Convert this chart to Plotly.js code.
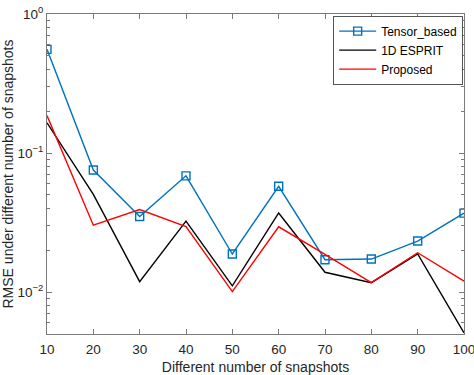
<!DOCTYPE html>
<html>
<head>
<meta charset="utf-8">
<script src="https://cdn.plot.ly/plotly-3.0.1.min.js"></script>
<style>html,body{margin:0;padding:0;background:#fff}#chart{width:474px;height:375px}</style>
</head>
<body>
<div id="chart"></div>
<script>
const snapshots = [10, 20, 30, 40, 50, 60, 70, 80, 90, 100];
const tensorBased = [0.557, 0.0755, 0.035, 0.0686, 0.0188, 0.0577, 0.0171, 0.0173, 0.0233, 0.037];
const esprit1D   = [0.165, 0.0505, 0.0119, 0.0324, 0.0111, 0.0371, 0.0139, 0.0117, 0.0188, 0.0051];
const proposed   = [0.186, 0.0303, 0.0393, 0.0296, 0.0101, 0.0295, 0.0187, 0.0117, 0.0192, 0.012];
const seriesNames = ['Tensor_based', '1D ESPRIT', 'Proposed'];
const yTickVals = [1, 0.1, 0.01];
const yTickText = ['10<sup>0</sup>', '10<sup>\u22121</sup>', '10<sup>\u22122</sup>'];
const yMinorVals = [0.005, 0.006, 0.007, 0.008, 0.009, 0.02, 0.03, 0.04, 0.05, 0.06, 0.07, 0.08, 0.09,
                    0.2, 0.3, 0.4, 0.5, 0.6, 0.7, 0.8, 0.9];
const xTickVals = [10, 20, 30, 40, 50, 60, 70, 80, 90, 100];

const font = 'Liberation Sans, Arial, sans-serif';
const axisColor = '#7a7a7a';

const traces = [
  {x: snapshots, y: tensorBased, name: seriesNames[0], type: 'scatter', mode: 'lines+markers',
   line: {color: '#0072BD', width: 1.4},
   marker: {symbol: 'square-open', size: 8, color: '#0072BD', line: {width: 1.4}}},
  {x: snapshots, y: esprit1D, name: seriesNames[1], type: 'scatter', mode: 'lines',
   line: {color: '#000000', width: 1.4}},
  {x: snapshots, y: proposed, name: seriesNames[2], type: 'scatter', mode: 'lines',
   line: {color: '#FF0000', width: 1.4}}
];

const layout = {
  width: 474, height: 375,
  margin: {l: 47, r: 10, t: 14, b: 41},
  paper_bgcolor: '#fff', plot_bgcolor: '#fff',
  font: {family: font, color: '#262626', size: 13},
  showlegend: true,
  legend: {x: 0.998, xanchor: 'right', y: 0.995, yanchor: 'top',
           bgcolor: '#fff', bordercolor: '#555', borderwidth: 1,
           font: {family: font, size: 12, color: '#000'},
           itemwidth: 37, tracegroupgap: 0},
  xaxis: {
    range: [10, 100], tickmode: 'array', tickvals: xTickVals,
    ticks: 'inside', ticklen: 5, tickcolor: axisColor,
    showline: true, linecolor: axisColor, linewidth: 1, mirror: 'ticks',
    showgrid: false, zeroline: false, ticklabeloverflow: 'allow', ticklabelstandoff: 3,
    tickfont: {family: font, size: 13.5, color: '#262626'},
    title: {text: 'Different number of snapshots', font: {family: font, size: 14, color: '#262626'}, standoff: 6}
  },
  yaxis: {
    type: 'log', range: [Math.log10(0.005), 0],
    tickmode: 'array', tickvals: yTickVals, ticktext: yTickText,
    ticks: 'inside', ticklen: 5, tickcolor: axisColor,
    minor: {tickmode: 'array', tickvals: yMinorVals, ticks: 'inside', ticklen: 3, tickcolor: axisColor, showgrid: false},
    showline: true, linecolor: axisColor, linewidth: 1, mirror: 'ticks',
    showgrid: false, zeroline: false,
    tickfont: {family: font, size: 13.5, color: '#262626'},
    title: {text: 'RMSE under different number of snapshots', font: {family: font, size: 14, color: '#262626'}, standoff: 2}
  }
};

Plotly.newPlot('chart', traces, layout, {displayModeBar: false, staticPlot: true});
</script>
</body>
</html>
